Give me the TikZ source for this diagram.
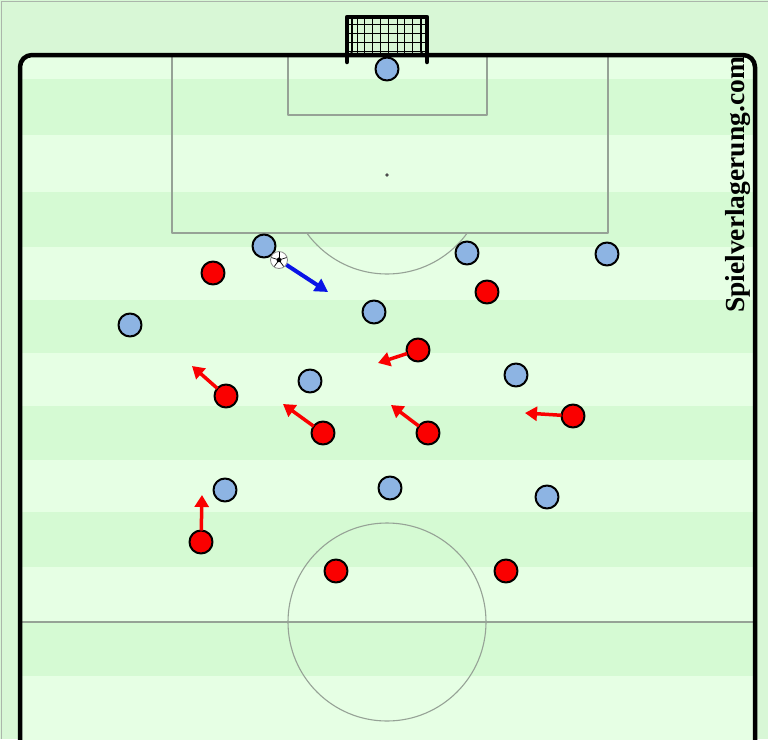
\documentclass[tikz,border=0pt]{standalone}
\usepackage{fontspec}
\setmainfont{Liberation Serif}
\usetikzlibrary{arrows.meta,shapes.geometric}

\definecolor{outside}{RGB}{216,247,214}
\definecolor{lightband}{RGB}{230,255,228}
\definecolor{darkband}{RGB}{213,250,211}
\definecolor{markline}{RGB}{150,162,150}
\definecolor{bluefill}{RGB}{141,180,227}
\definecolor{redfill}{RGB}{250,0,0}
\definecolor{passblue}{RGB}{10,20,230}

\tikzset{
  player/.style={circle, draw=black, line width=2pt, minimum size=23pt, inner sep=0pt},
  blueplayer/.style={player, fill=bluefill},
  redplayer/.style={player, fill=redfill},
  redrun/.style={draw=redfill, line width=3.5pt, -{Triangle[length=12pt,width=14pt]}, shorten <=-1pt},
  bluepass/.style={draw=passblue, line width=4pt, -{Triangle[length=13pt,width=14pt]}},
  marking/.style={draw=markline, line width=1.1pt}
}

\begin{document}
\begin{tikzpicture}[x=1pt, y=-1pt, line join=round]
\useasboundingbox (0,0) rectangle (768,739);
\fill[outside] (0,0) rectangle (768,739);
\draw[markline!80, line width=0.8pt] (1.5,739) -- (1.5,1.5) -- (768,1.5);

% pitch with stripes
\fill[lightband, rounded corners=12pt] (20,760) -- (20,55) -- (755,55) -- (755,760) -- cycle;
\begin{scope}
  \clip[rounded corners=12pt] (20,760) -- (20,55) -- (755,55) -- (755,760) -- cycle;
  \foreach \ya/\yb in {79/135, 192/247, 300/353, 406/460, 512/567, 622/676}
    \fill[darkband] (20,\ya) rectangle (755,\yb);
  % markings
  \draw[marking] (172,55) rectangle (608,233);
  \draw[marking] (288,55) rectangle (487,115);
  \fill[black!70] (387,175) circle[radius=1.8pt];
  \begin{scope}
    \clip (0,233) rectangle (768,400);
    \draw[marking] (387,175) circle[radius=99pt];
  \end{scope}
  \draw[marking] (20,622) -- (755,622);
  \draw[marking] (387,622) circle[radius=99pt];
\end{scope}

% goal
\foreach \x in {357,364,372,380,388,397,404,412}
  \draw[black, line width=0.8pt] (\x,18) -- (\x,55);
\foreach \y in {24,33,42,51}
  \draw[black, line width=0.8pt] (349,\y) -- (425,\y);
\draw[black, line width=1.6pt] (352,18) -- (352,52) -- (347,58) (421,18) -- (421,52) -- (427,58);
\draw[line width=4.5pt, rounded corners=12pt] (20,760) -- (20,55) -- (755,55) -- (755,760);
\draw[line width=4.5pt, line cap=round] (347,62) -- (347,17) -- (427,17) -- (427,62);

% blue team
\node[blueplayer] (b1) at (387,69) {};
\node[blueplayer] (b2) at (264,246) {};
\node[blueplayer] (b3) at (467,253) {};
\node[blueplayer] (b4) at (607,254) {};
\node[blueplayer] (b5) at (130,325) {};
\node[blueplayer] (b6) at (374,312) {};
\node[blueplayer] (b7) at (310,381) {};
\node[blueplayer] (b8) at (516,375) {};
\node[blueplayer] (b9) at (225,490) {};
\node[blueplayer] (b10) at (390,488) {};
\node[blueplayer] (b11) at (547,497) {};

% red team
\node[redplayer] (r1) at (213,273) {};
\node[redplayer] (r2) at (487,292) {};
\node[redplayer] (r3) at (418,350) {};
\node[redplayer] (r4) at (226,396) {};
\node[redplayer] (r5) at (323,433) {};
\node[redplayer] (r6) at (428,433) {};
\node[redplayer] (r7) at (573,416) {};
\node[redplayer] (r8) at (201,542) {};
\node[redplayer] (r9) at (336,571) {};
\node[redplayer] (r10) at (506,571) {};

% runs
\coordinate (r3t) at (378,363);
\coordinate (r4t) at (192,366);
\coordinate (r5t) at (283,404);
\coordinate (r6t) at (391,405);
\coordinate (r7t) at (525,413);
\coordinate (r8t) at (202,495);
\foreach \p in {3,...,8}
  \draw[redrun] (r\p) -- (r\p t);

% ball and pass
\node[circle, fill=white, draw=black!45, line width=0.8pt, minimum size=17pt, inner sep=0pt] (ball) at (279,260) {};
\node[regular polygon, regular polygon sides=5, fill=black, inner sep=0pt, minimum size=5.5pt] (patch) at (ball) {};
\foreach \a in {18,90,162,234,306}
  \draw[black, line width=0.7pt] (ball.center) ++(\a:2.5pt) -- ++(\a:5.5pt);
\coordinate (passend) at (328,292);
\draw[bluepass] (ball) -- (passend);

\node[rotate=90, font=\bfseries\fontsize{27.5}{27.5}\selectfont, inner sep=0pt] (brand) at (738,185) {Spielverlagerung.com};
\end{tikzpicture}
\end{document}
